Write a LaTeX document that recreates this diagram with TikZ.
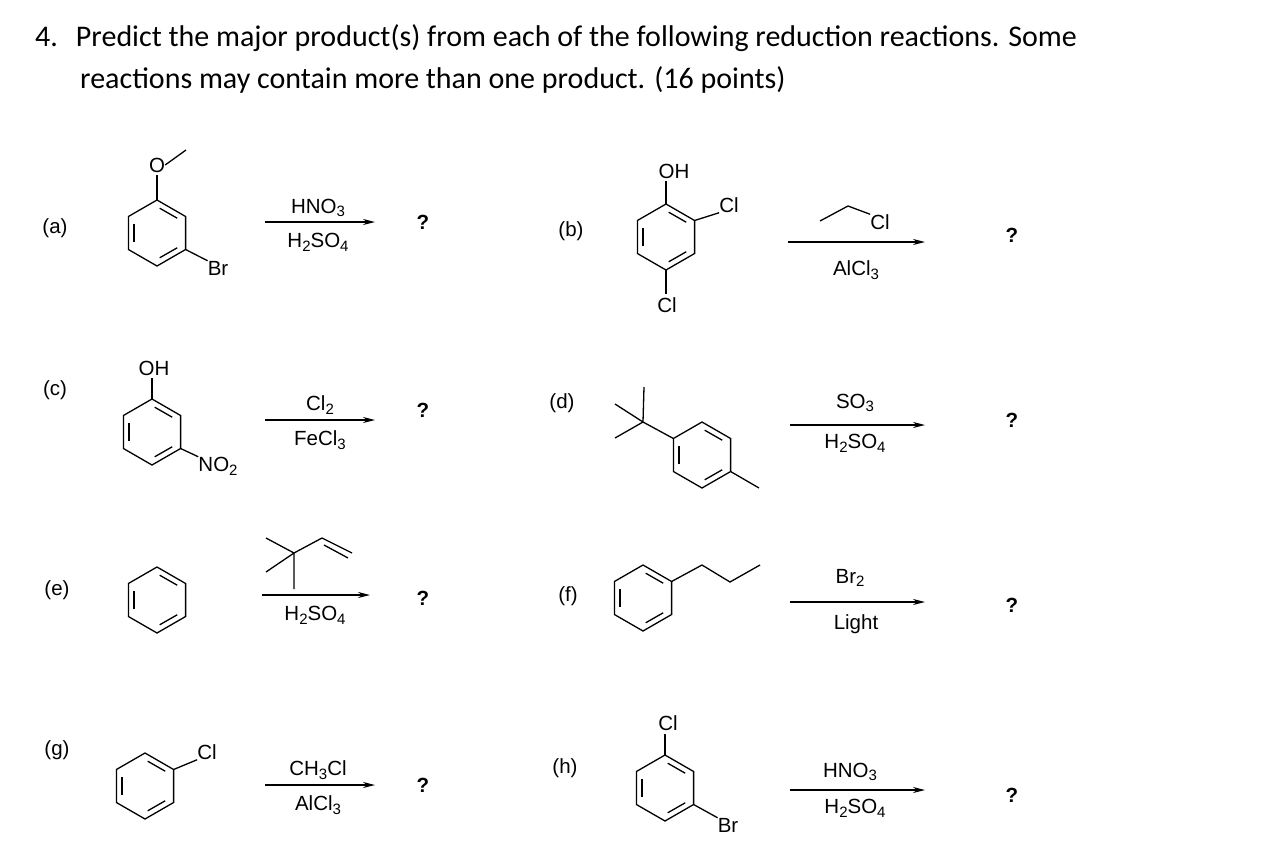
\documentclass[tikz,border=0pt]{standalone}
\usepackage{fontspec}
\setmainfont{Liberation Sans}
\newfontfamily\titlefont{Carlito}
\usetikzlibrary{arrows.meta}
\newcommand{\sbs}[1]{\raisebox{-0.35ex}{\fontsize{15}{15}\selectfont #1}}
\tikzset{
  bd/.style={line width=1.3pt},
  gap/.style={line width=1.3pt,shorten >=3pt},
  rx/.style={line width=1.4pt,-{Stealth[length=12pt,width=6pt]}},
  lab/.style={font=\fontsize{20.5}{24}\selectfont,inner sep=0pt},
  qm/.style={font=\bfseries\fontsize{20.5}{24}\selectfont,inner sep=0pt},
  ring/.pic={
    \draw[bd] (0,-33)--(28.6,-16.5)--(28.6,16.5)--(0,33)--(-28.6,16.5)--(-28.6,-16.5)--cycle;
    \draw[bd] (2.7,-24.8)--(20.2,-14.8);
    \draw[bd] (20.2,14.8)--(2.7,24.8);
    \draw[bd] (-22.9,9.2)--(-22.9,-9.2);
  }
}
\begin{document}
\begin{tikzpicture}[x=1pt,y=-1pt]
\useasboundingbox (0,0) rectangle (1270,844);
% title
\node[anchor=west,inner sep=0pt,font=\titlefont\fontsize{30}{34}\selectfont] (t1) at (35,38) {4.\hspace{18pt}Predict the major product(s) from each of the following reduction reactions. Some};
\node[anchor=west,inner sep=0pt,font=\titlefont\fontsize{30}{34}\selectfont] (t2) at (80,80) {reactions may contain more than one product. (16 points)};
% labels
\node[lab] (la) at (55,228) {(a)};
\node[lab] (lb) at (571,231) {(b)};
\node[lab] (lc) at (55,390) {(c)};
\node[lab] (ld) at (562,403) {(d)};
\node[lab] (le) at (57,590) {(e)};
\node[lab] (lf) at (568,596) {(f)};
\node[lab] (lg) at (57,750) {(g)};
\node[lab] (lh) at (565,768) {(h)};
% (a)
\pic at (157,233) {ring};
\node[lab] (aO) at (157,165) {O};
\draw[gap] (157,200)--(aO.south);
\coordinate (aMe) at (186,150);
\draw[bd] (aO.east)--(aMe);
\node[lab] (aBr) at (218,268) {Br};
\draw[bd] (185.6,249.5)--(aBr.north west);
\coordinate (a1) at (265,222); \coordinate (a2) at (375,222);
\draw[rx] (a1)--(a2);
\node[lab] (a3) at (318,208) {HNO\sbs{3}};
\node[lab] (a4) at (318,242) {H\sbs{2}SO\sbs{4}};
\node[qm] (aq) at (423,222) {?};
% (b)
\pic at (666,237) {ring};
\node[lab] (bOH) at (674,171) {OH};
\draw[gap] (666,204)--(bOH.south -| 666,0);
\node[lab] (bCl1) at (729,205) {Cl};
\draw[bd] (694.6,220.5)--(bCl1.south west);
\node[lab] (bCl2) at (667,305) {Cl};
\draw[gap] (666,270)--(bCl2.north -| 666,0);
\coordinate (e1) at (820,221); \coordinate (e2) at (848,206);
\node[lab] (eCl) at (880,222) {Cl};
\draw[bd] (e1)--(e2)--(eCl.north west);
\coordinate (b1) at (788,242); \coordinate (b2) at (925,242);
\draw[rx] (b1)--(b2);
\node[lab] (b4) at (856,270) {AlCl\sbs{3}};
\node[qm] (bq) at (1012,235) {?};
% (c)
\pic at (152,432) {ring};
\node[lab] (cOH) at (154,368) {OH};
\draw[gap] (152,399)--(cOH.south -| 152,0);
\node[lab] (cN) at (218,466) {NO\sbs{2}};
\draw[bd] (180.6,448.5)--(cN.north west);
\coordinate (c1) at (265,420); \coordinate (c2) at (375,420);
\draw[rx] (c1)--(c2);
\node[lab] (c3) at (320,405) {Cl\sbs{2}};
\node[lab] (c4) at (320,440) {FeCl\sbs{3}};
\node[qm] (cq) at (423,410) {?};
% (d)
\pic at (702,455) {ring};
\coordinate (dq) at (643,422);
\coordinate (dm1) at (644,387); \coordinate (dm2) at (615,404); \coordinate (dm3) at (615,438);
\draw[bd] (673.4,438.5)--(dq)--(dm1) (dq)--(dm2) (dq)--(dm3);
\coordinate (dme) at (759,488);
\draw[bd] (730.6,471.5)--(dme);
\coordinate (d1) at (790,425); \coordinate (d2) at (925,425);
\draw[rx] (d1)--(d2);
\node[lab] (d3) at (855,403) {SO\sbs{3}};
\node[lab] (d4) at (855,443) {H\sbs{2}SO\sbs{4}};
\node[qm] (dqq) at (1012,420) {?};
% (e)
\pic at (157,600) {ring};
\coordinate (eq) at (294,553);
\coordinate (em1) at (266,538); \coordinate (em2) at (266,572); \coordinate (em3) at (294,589);
\coordinate (ev1) at (322,538); \coordinate (ev2) at (352,553);
\draw[bd] (em1)--(eq)--(em2) (eq)--(em3) (eq)--(ev1)--(ev2);
\draw[bd] (324,545)--(348,558);
\coordinate (f1) at (262,595); \coordinate (f2) at (370,595);
\draw[rx] (f1)--(f2);
\node[lab] (e4) at (315,615) {H\sbs{2}SO\sbs{4}};
\node[qm] (eqq) at (423,598) {?};
% (f)
\pic at (643,598) {ring};
\coordinate (p1) at (702,565); \coordinate (p2) at (730,582); \coordinate (p3) at (760,565);
\draw[bd] (671.6,581.5)--(p1)--(p2)--(p3);
\coordinate (g1) at (790,602); \coordinate (g2) at (925,602);
\draw[rx] (g1)--(g2);
\node[lab] (f3) at (850,578) {Br\sbs{2}};
\node[lab] (f4) at (856,624) {Light};
\node[qm] (fq) at (1012,605) {?};
% (g)
\pic at (145,786) {ring};
\node[lab] (gCl) at (207,752) {Cl};
\draw[bd] (173.6,769.5)--(gCl.south west);
\coordinate (h1) at (265,785); \coordinate (h2) at (375,785);
\draw[rx] (h1)--(h2);
\node[lab] (g3) at (318,770) {CH\sbs{3}Cl};
\node[lab] (g4) at (318,805) {AlCl\sbs{3}};
\node[qm] (gq) at (423,785) {?};
% (h)
\pic at (665,788) {ring};
\node[lab] (hCl) at (668,723) {Cl};
\draw[gap] (665,755)--(hCl.south -| 665,0);
\node[lab] (hBr) at (728,825) {Br};
\draw[bd] (693.6,804.5)--(hBr.north west);
\coordinate (i1) at (790,790); \coordinate (i2) at (925,790);
\draw[rx] (i1)--(i2);
\node[lab] (h3) at (850,772) {HNO\sbs{3}};
\node[lab] (h4) at (855,808) {H\sbs{2}SO\sbs{4}};
\node[qm] (hq) at (1012,795) {?};
\end{tikzpicture}
\end{document}
